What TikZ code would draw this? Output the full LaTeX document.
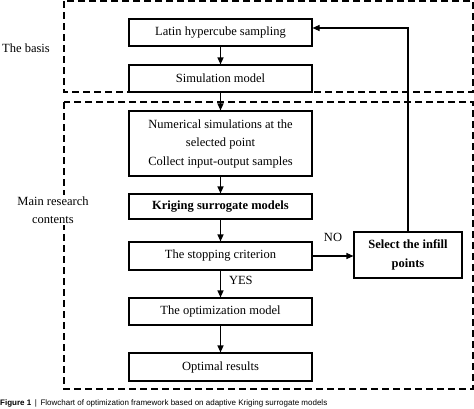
\documentclass[tikz,border=0pt]{standalone}
\usepackage{fontspec}
\setmainfont{Liberation Serif}
\newfontfamily\capfont{Liberation Sans}
\usetikzlibrary{arrows.meta}
\begin{document}
\begin{tikzpicture}[x=1pt,y=-1pt,
  every node/.style={font=\fontsize{12.5}{18.5}\selectfont, inner sep=0pt},
  stepbox/.style={draw, line width=1.1pt, minimum width=183pt, align=center},
  region/.style={draw, line width=1.4pt, dash pattern=on 7pt off 4pt},
  flow/.style={line width=1.1pt, -{Triangle[length=7pt,width=6pt]}}]
\useasboundingbox (0,0) rectangle (474,408);
% dashed regions
\draw[region] (64,1) rectangle (473,92);
\draw[region] (64,102) rectangle (473,389);
% labels
\node (basis) at (26,48) {The basis};
\node[fill=white, align=center, inner sep=1pt] (main) at (53,210) {Main research\\contents};
% boxes
\node[stepbox, minimum height=27pt] (lhs) at (220.5,32.5) {Latin hypercube sampling};
\node[stepbox, minimum height=27pt] (sim) at (220.5,78.5) {Simulation model};
\node[stepbox, minimum height=65pt] (num) at (220.5,143.5) {Numerical simulations at the\\selected point\\Collect input-output samples};
\node[stepbox, minimum height=25pt, font=\fontsize{12.5}{18.5}\selectfont\bfseries] (krig) at (220.5,206.5) {Kriging surrogate models};
\node[stepbox, minimum height=28pt] (stop) at (220.5,256) {The stopping criterion};
\node[stepbox, minimum height=27pt] (opt) at (220.5,311.5) {The optimization model};
\node[stepbox, minimum height=28pt] (res) at (220.5,367) {Optimal results};
\node[draw, line width=1.1pt, minimum width=108pt, minimum height=46pt, align=center, font=\fontsize{12.5}{19}\selectfont\bfseries] (infill) at (408,255) {Select the infill\\points};
% connectors
\draw[flow] (lhs) -- (sim);
\draw[flow] (sim) -- (num);
\draw[flow] (num) -- (krig);
\draw[flow] (krig) -- (stop);
\draw[flow] (stop) -- node[right=8pt, pos=0.35] (yes) {YES} (opt);
\draw[flow] (opt) -- (res);
\draw[flow] (stop.east) -- node[above=14pt, pos=0.5] (no) {NO} (infill.west |- stop.east);
\draw[flow] (infill.north) |- (lhs.east |- 0,28);
% caption
\node[anchor=base west, font=\capfont\fontsize{8}{9}\selectfont] (cap) at (0,405.8) {\textbf{Figure 1} \,|\, Flowchart of optimization framework based on adaptive Kriging surrogate models};
\end{tikzpicture}
\end{document}
